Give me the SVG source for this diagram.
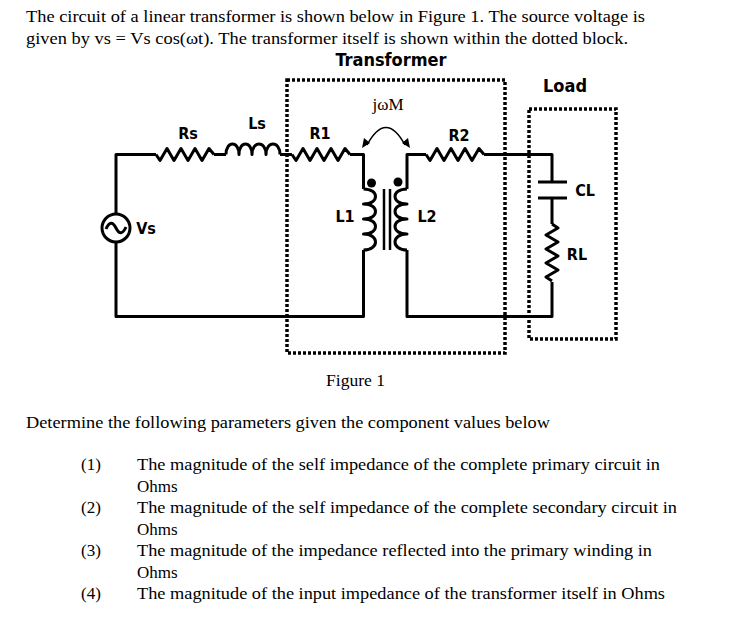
<svg xmlns="http://www.w3.org/2000/svg" width="732" height="624" viewBox="0 0 732 624">
<style>
.t{font-family:"Liberation Serif",serif;font-size:17px;fill:#000}
.l{font-family:"DejaVu Sans Condensed","DejaVu Sans",sans-serif;font-weight:bold;font-size:16px;fill:#000;text-anchor:middle}
.w{fill:none;stroke:#000;stroke-width:3;stroke-linejoin:round}
.d{fill:none;stroke:#000;stroke-width:3.5;stroke-dasharray:3,2}
</style>
<rect width="732" height="624" fill="#fff"/>
<text class="t" x="26" y="22" textLength="619" lengthAdjust="spacingAndGlyphs">The circuit of a linear transformer is shown below in Figure 1. The source voltage is</text>
<text class="t" x="26" y="44" textLength="602" lengthAdjust="spacingAndGlyphs">given by vs = Vs cos(ωt). The transformer itself is shown within the dotted block.</text>
<g id="boxes">
<rect class="d" x="287" y="80" width="218" height="273"/>
<rect class="d" x="529" y="109" width="87" height="230"/>
</g>
<g id="wires">
<path class="w" d="M116 214 V154.5 H156 M214 154.5 H226 M280 154.5 H292 M350 154.5 H363.5 V189 M363.5 250 V316.5 H116 V242"/>
<path class="w" d="M407 189 V154.5 H426 M484 154.5 H552 V182 M552 198 V224 M552 282 V316.5 H407 V250"/>
<path fill="none" stroke="#000" stroke-width="1.5" d="M367 145 Q386 110 405 145"/>
<path d="M362 148 L364 138 L370 143 Z M410 148 L408 138 L402 143 Z"/>
</g>
<g id="Vs"><circle cx="116" cy="228" r="14" fill="#fff" stroke="#000" stroke-width="3"/><path class="w" d="M106 229 Q111 218 116 228 Q121 238 126 227" stroke-width="2"/><text class="l" x="146" y="234">Vs</text></g>
<g id="Rs"><path class="w" d="M156 154.5 l4 6 l7 -12 l7 12 l7 -12 l7 12 l7 -12 l7 12 l7 -12 l5 6"/><text class="l" x="188" y="139">Rs</text></g>
<g id="Ls"><path class="w" d="M226 154.5 c0 -14 13 -14 13 0 c0 -14 13 -14 13 0 c0 -14 14 -14 14 0 c0 -14 14 -14 14 0"/><text class="l" x="257" y="129">Ls</text></g>
<g id="R1"><path class="w" d="M292 154.5 l4 6 l7 -12 l7 12 l7 -12 l7 12 l7 -12 l7 12 l7 -12 l5 6"/><text class="l" x="320" y="139">R1</text></g>
<g id="R2"><path class="w" d="M426 154.5 l4 6 l7 -12 l7 12 l7 -12 l7 12 l7 -12 l7 12 l7 -12 l5 6"/><text class="l" x="459" y="141">R2</text></g>
<g id="core"><path stroke="#000" stroke-width="2.5" d="M384 189 V250 M390 189 V250"/><circle cx="371.5" cy="183" r="4.5"/><circle cx="398" cy="182" r="4.5"/><text x="388" y="110" text-anchor="middle" style="font-family:'Liberation Serif',serif;font-size:17px">jωM</text></g>
<g id="L1"><path class="w" d="M363.5 189 c16 0 16 15 0 15 c16 0 16 15 0 15 c16 0 16 15 0 15 c16 0 16 16 0 16"/><text class="l" x="345" y="222">L1</text></g>
<g id="L2"><path class="w" d="M407 189 c-16 0 -16 15 0 15 c-16 0 -16 15 0 15 c-16 0 -16 15 0 15 c-16 0 -16 16 0 16"/><text class="l" x="427" y="222">L2</text></g>
<g id="CL"><path class="w" d="M538 182 H567 M538 198 H567"/><text class="l" x="585" y="196">CL</text></g>
<g id="RL"><path class="w" d="M552 224 l6 4 l-12 7 l12 7 l-12 7 l12 7 l-12 7 l12 7 l-12 7 l6 4"/><text class="l" x="577" y="260">RL</text></g>
<text class="l" x="391" y="66" style="font-size:18px">Transformer</text>
<text class="l" x="565" y="92" style="font-size:18px">Load</text>
<text class="t" x="326" y="386" textLength="59" lengthAdjust="spacingAndGlyphs">Figure 1</text>
<text class="t" x="26" y="428" textLength="524" lengthAdjust="spacingAndGlyphs">Determine the following parameters given the component values below</text>
<text class="t" x="81" y="470">(1)</text><text class="t" x="137" y="470" textLength="523" lengthAdjust="spacingAndGlyphs">The magnitude of the self impedance of the complete primary circuit in</text>
<text class="t" x="137" y="492">Ohms</text>
<text class="t" x="81" y="513">(2)</text><text class="t" x="137" y="513" textLength="540" lengthAdjust="spacingAndGlyphs">The magnitude of the self impedance of the complete secondary circuit in</text>
<text class="t" x="137" y="535">Ohms</text>
<text class="t" x="81" y="556">(3)</text><text class="t" x="137" y="556" textLength="515" lengthAdjust="spacingAndGlyphs">The magnitude of the impedance reflected into the primary winding in</text>
<text class="t" x="137" y="578">Ohms</text>
<text class="t" x="81" y="599">(4)</text><text class="t" x="137" y="599" textLength="528" lengthAdjust="spacingAndGlyphs">The magnitude of the input impedance of the transformer itself in Ohms</text>
</svg>
